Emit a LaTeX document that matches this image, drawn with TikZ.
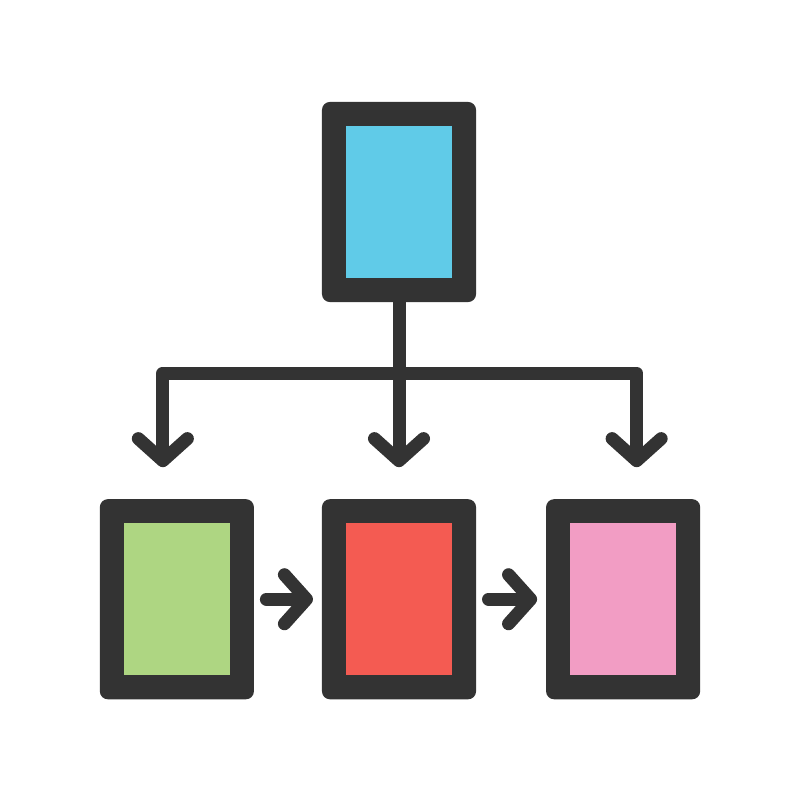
\documentclass[tikz,border=0pt]{standalone}
\usetikzlibrary{arrows.meta, positioning, calc}
\definecolor{ink}{RGB}{51,51,51}
\definecolor{skyblue}{RGB}{96,203,232}
\definecolor{leafgreen}{RGB}{174,214,130}
\definecolor{coralred}{RGB}{244,91,82}
\definecolor{rosepink}{RGB}{242,157,196}
\tikzset{
  panel/.style={
    rectangle, fill=ink, rounded corners=0.08cm,
    minimum width=1.54cm, minimum height=2cm, inner sep=0pt, outer sep=0pt,
    path picture={\fill[#1, sharp corners] ($(path picture bounding box.south west)+(0.24cm,0.24cm)$) rectangle ($(path picture bounding box.north east)+(-0.24cm,-0.24cm)$);}
  },
  barb/.tip={Straight Barb[length=0.22cm, width=0.49cm, line width=0.13cm, round]},
  flow/.style={
    draw=ink, line width=0.13cm, line cap=round, line join=round, -barb
  }
}

\begin{document}
\begin{tikzpicture}[x=0.01cm, y=-0.01cm]
  \fill[white] (0,0) rectangle (800,800);
  \useasboundingbox (0,0) rectangle (800,800);

  % boxes
  \node[panel=skyblue] (top) at (399,202) {};
  \node[panel=coralred, below=1.97cm of top] (mid) {};
  \node[panel=leafgreen, left=0.68cm of mid] (left) {};
  \node[panel=rosepink, right=0.70cm of mid] (right) {};

  % split into three
  \coordinate (fork) at ($(top.south)+(0,-0.71cm)$);
  \coordinate (dropL) at ($(left.north)+(-0.14cm,0.32cm)$);
  \coordinate (dropR) at ($(right.north)+(0.135cm,0.32cm)$);
  \draw[flow, shorten >=0.32cm] (top.south) -- (mid.north);
  \draw[flow, barb-barb] (dropL) |- (fork) -| (dropR);

  % sequence
  \draw[flow, shorten <=0.125cm, shorten >=0.09cm] (left) -- (mid);
  \draw[flow, shorten <=0.125cm, shorten >=0.09cm] (mid) -- (right);
\end{tikzpicture}
\end{document}
